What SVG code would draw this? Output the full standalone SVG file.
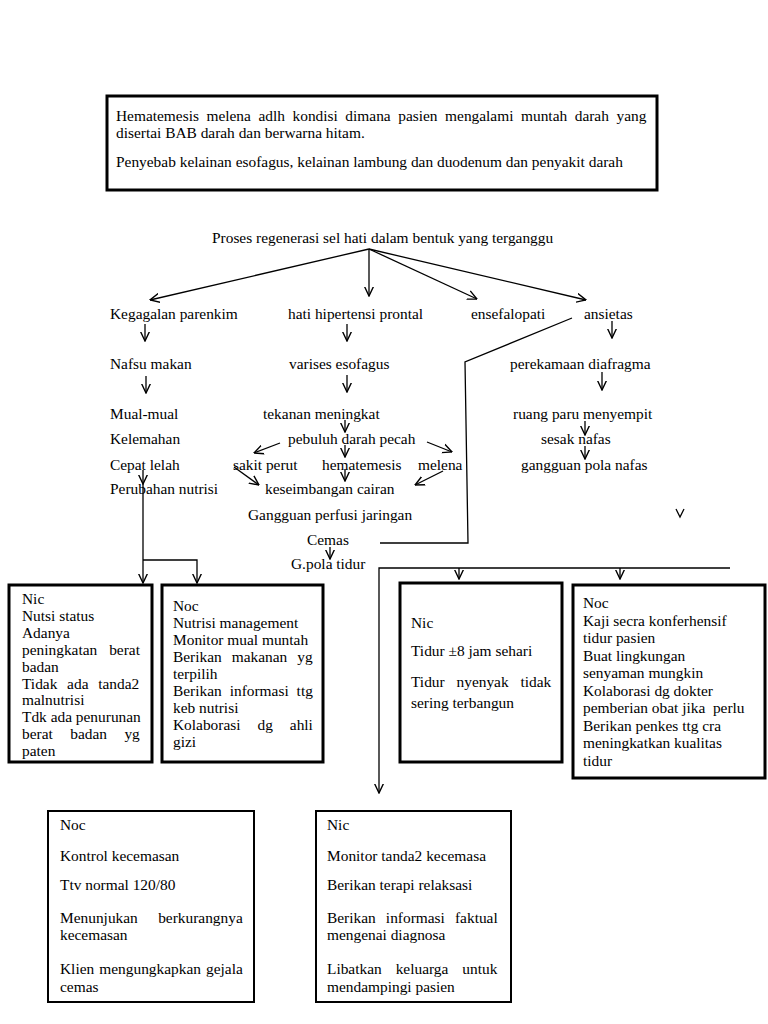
<svg xmlns="http://www.w3.org/2000/svg" width="768" height="1024" viewBox="0 0 768 1024">
<style>
text{font-family:"Liberation Serif","Times New Roman",serif;font-size:15.4px;fill:#000}
.box{fill:#fff;stroke:#000;stroke-width:3}
.box2{fill:#fff;stroke:#000;stroke-width:2}
.c{fill:none;stroke:#000;stroke-width:1.3}
.a{marker-end:url(#ah)}
</style>
<defs>
<marker id="ah" viewBox="0 0 10 10" refX="9.5" refY="5" markerWidth="10" markerHeight="11" markerUnits="userSpaceOnUse" orient="auto">
<path d="M0,0.5 L9.5,5 L0,9.5" fill="none" stroke="#000" stroke-width="1.4"/>
</marker>
</defs>
<rect width="768" height="1024" fill="#fff"/>

<g id="intro">
<rect class="box" x="107" y="96" width="550" height="94"/>
<text x="116" y="121" word-spacing="3.7">Hematemesis melena adlh kondisi dimana pasien mengalami muntah darah yang</text>
<text x="116" y="138">disertai BAB darah dan berwarna hitam.</text>
<text x="116" y="167">Penyebab kelainan esofagus, kelainan lambung dan duodenum dan penyakit darah</text>
</g>

<g id="proses"><text x="212" y="243">Proses regenerasi sel hati dalam bentuk yang terganggu</text></g>
<g id="kegagalan"><text x="110" y="319">Kegagalan parenkim</text></g>
<g id="hipertensi"><text x="288" y="319">hati hipertensi prontal</text></g>
<g id="ensefalopati"><text x="471" y="319">ensefalopati</text></g>
<g id="ansietas"><text x="584" y="319">ansietas</text></g>

<g id="nafsu"><text x="110" y="369">Nafsu makan</text></g>
<g id="mual"><text x="110" y="419">Mual-mual</text></g>
<g id="kelemahan"><text x="110" y="444">Kelemahan</text></g>
<g id="cepat"><text x="110" y="470">Cepat lelah</text></g>
<g id="perubahan"><text x="110" y="494">Perubahan nutrisi</text></g>

<g id="varises"><text x="289" y="369">varises esofagus</text></g>
<g id="tekanan"><text x="263" y="419">tekanan meningkat</text></g>
<g id="pebuluh"><text x="288" y="444">pebuluh darah pecah</text></g>
<g id="sakit"><text x="233" y="470">sakit perut</text></g>
<g id="hematemesis"><text x="322" y="470">hematemesis</text></g>
<g id="melena"><text x="418" y="470">melena</text></g>
<g id="keseimbangan"><text x="265" y="494">keseimbangan cairan</text></g>
<g id="perfusi"><text x="248" y="520">Gangguan perfusi jaringan</text></g>
<g id="cemas"><text x="307" y="545">Cemas</text></g>
<g id="gpola"><text x="291" y="569">G.pola tidur</text></g>

<g id="perekamaan"><text x="510" y="369">perekamaan diafragma</text></g>
<g id="ruang"><text x="513" y="419">ruang paru menyempit</text></g>
<g id="sesak"><text x="541" y="444">sesak nafas</text></g>
<g id="gangguanpola"><text x="521" y="470">gangguan pola nafas</text></g>

<g id="connectors">
<line class="c a" x1="369" y1="249" x2="150" y2="300"/>
<line class="c a" x1="369" y1="249" x2="369" y2="296"/>
<line class="c a" x1="369" y1="249" x2="477" y2="299"/>
<line class="c a" x1="369" y1="249" x2="586" y2="300"/>
<line class="c a" x1="145" y1="324" x2="145" y2="341"/>
<line class="c a" x1="347" y1="324" x2="347" y2="341"/>
<line class="c a" x1="612" y1="321" x2="612" y2="338"/>
<line class="c a" x1="146" y1="376" x2="146" y2="393"/>
<line class="c a" x1="347" y1="375" x2="347" y2="392"/>
<line class="c a" x1="602" y1="372" x2="602" y2="390"/>
<line class="c a" x1="345" y1="420" x2="345" y2="432"/>
<line class="c a" x1="345" y1="445" x2="345" y2="457"/>
<line class="c a" x1="345" y1="469" x2="345" y2="481"/>
<line class="c a" x1="280" y1="443" x2="254" y2="453"/>
<line class="c a" x1="427" y1="442" x2="452" y2="452"/>
<line class="c a" x1="234" y1="467" x2="259" y2="485"/>
<line class="c a" x1="443" y1="471" x2="415" y2="485"/>
<line class="c a" x1="585" y1="421" x2="585" y2="435"/>
<line class="c a" x1="585" y1="446" x2="585" y2="459"/>
<line class="c a" x1="143" y1="470" x2="143" y2="484"/>
<line class="c a" x1="143" y1="484" x2="143" y2="583"/>
<polyline class="c a" points="143,560 197,560 197,583"/>
<line class="c a" x1="330" y1="547" x2="330" y2="559"/>
<polyline class="c" points="572,318 465,362 468,543 380,543"/>
<polyline class="c a" points="730,568 379,568 379,793"/>
<line class="c a" x1="459" y1="568" x2="459" y2="579"/>
<line class="c a" x1="620" y1="568" x2="620" y2="579"/>
<polyline class="c" points="676,509 680,517 684,509"/>
</g>

<g id="nic1">
<rect class="box" x="9" y="585" width="143" height="177"/>
<text x="22" y="604">Nic</text>
<text x="22" y="621">Nutsi status</text>
<text x="22" y="638">Adanya</text>
<text x="22" y="655" word-spacing="8.1">peningkatan berat</text>
<text x="22" y="672">badan</text>
<text x="22" y="689" word-spacing="5.9">Tidak ada tanda2</text>
<text x="22" y="705">malnutrisi</text>
<text x="22" y="722">Tdk ada penurunan</text>
<text x="22" y="739" word-spacing="13.6">berat badan yg</text>
<text x="22" y="756">paten</text>
</g>

<g id="noc1">
<rect class="box" x="162" y="585" width="161" height="177"/>
<text x="173" y="611">Noc</text>
<text x="173" y="628">Nutrisi management</text>
<text x="173" y="645">Monitor mual muntah</text>
<text x="173" y="662" word-spacing="6.2">Berikan makanan yg</text>
<text x="173" y="679">terpilih</text>
<text x="173" y="696" word-spacing="4.1">Berikan informasi ttg</text>
<text x="173" y="713">keb nutrisi</text>
<text x="173" y="730" word-spacing="13.1">Kolaborasi dg ahli</text>
<text x="173" y="747">gizi</text>
</g>

<g id="nic2">
<rect class="box" x="400" y="583" width="162" height="179"/>
<text x="411" y="628">Nic</text>
<text x="411" y="656">Tidur ±8 jam sehari</text>
<text x="411" y="687" word-spacing="8">Tidur nyenyak tidak</text>
<text x="411" y="708">sering terbangun</text>
</g>

<g id="noc2">
<rect class="box" x="573" y="585" width="192" height="193"/>
<text x="583" y="608">Noc</text>
<text x="583" y="626">Kaji secra konferhensif</text>
<text x="583" y="643">tidur pasien</text>
<text x="583" y="661">Buat lingkungan</text>
<text x="583" y="678">senyaman mungkin</text>
<text x="583" y="696">Kolaborasi dg dokter</text>
<text x="583" y="713" style="white-space:pre">pemberian obat jika  perlu</text>
<text x="583" y="731">Berikan penkes ttg cra</text>
<text x="583" y="748">meningkatkan kualitas</text>
<text x="583" y="766">tidur</text>
</g>

<g id="noc3">
<rect class="box2" x="48" y="811" width="206" height="191"/>
<text x="60" y="830">Noc</text>
<text x="60" y="861">Kontrol kecemasan</text>
<text x="60" y="890">Ttv normal 120/80</text>
<text x="60" y="923" word-spacing="16.5">Menunjukan berkurangnya</text>
<text x="60" y="940">kecemasan</text>
<text x="60" y="974" word-spacing="1.2">Klien mengungkapkan gejala</text>
<text x="60" y="992">cemas</text>
</g>

<g id="nic3">
<rect class="box2" x="316" y="811" width="195" height="191"/>
<text x="327" y="830">Nic</text>
<text x="327" y="861">Monitor tanda2 kecemasa</text>
<text x="327" y="890">Berikan terapi relaksasi</text>
<text x="327" y="923" word-spacing="6.3">Berikan informasi faktual</text>
<text x="327" y="940">mengenai diagnosa</text>
<text x="327" y="974" word-spacing="10.1">Libatkan keluarga untuk</text>
<text x="327" y="992">mendampingi pasien</text>
</g>
</svg>
